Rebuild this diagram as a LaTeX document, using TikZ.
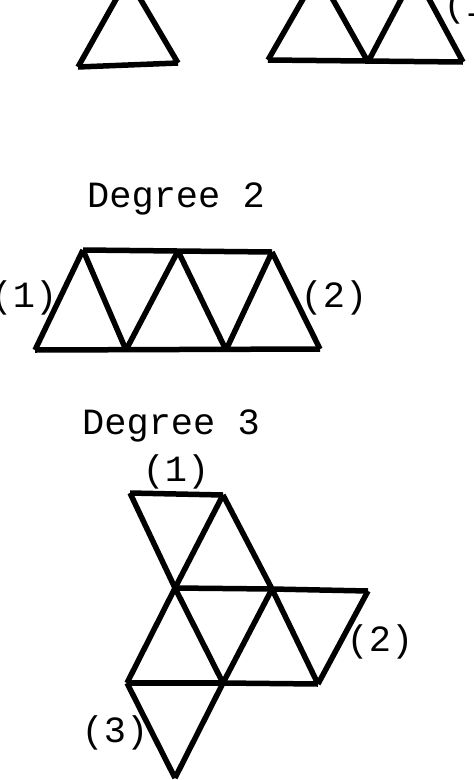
\documentclass[tikz,border=0pt]{standalone}
\usepackage{fontspec}
\setmonofont{Liberation Mono}

\begin{document}
\begin{tikzpicture}[x=1pt,y=-1pt,
    edge/.style={line width=5.5pt},
    lbl/.style={font=\ttfamily\fontsize{37}{40}\selectfont,inner sep=0pt}]
    \useasboundingbox (0,0) rectangle (474,780);
    \clip (0,0) rectangle (474,780);

    \coordinate (sa) at (128,-22);
    \coordinate (sl) at (78,67);
    \coordinate (sr) at (178,63);
    \coordinate (pa) at (318,-27);
    \coordinate (pb) at (415,-27);
    \coordinate (pl) at (268,60);
    \coordinate (pm) at (368,62);
    \coordinate (pr) at (463,62);
    \node[lbl] (p1) at (477,7) {(1)};
    \foreach \u/\v in {sa/sl,sl/sr,sr/sa,pa/pb,pl/pr,pl/pa,pa/pm,pm/pb,pb/pr}
        \draw[edge] (\u) -- (\v);

    \node[lbl] (deg2) at (176,199) {Degree 2};
    \coordinate (t0) at (83,250);
    \coordinate (t1) at (178,251);
    \coordinate (t2) at (272,252);
    \coordinate (b0) at (35,350);
    \coordinate (b1) at (126,350);
    \coordinate (b2) at (226,350);
    \coordinate (b3) at (320,349);
    \node[lbl] (d2a) at (24,298) {(1)};
    \node[lbl] (d2b) at (334,298) {(2)};
    \foreach \u/\v in {t0/t2,b0/b3,b0/t0,t0/b1,b1/t1,t1/b2,b2/t2,t2/b3}
        \draw[edge] (\u) -- (\v);

    \node[lbl] (deg3) at (171,426) {Degree 3};
    \coordinate (A) at (130,493);
    \coordinate (B) at (223,495);
    \coordinate (C) at (175,588);
    \coordinate (D) at (272,589);
    \coordinate (E) at (368,591);
    \coordinate (F) at (127,683);
    \coordinate (G) at (223,683);
    \coordinate (H) at (318,684);
    \coordinate (I) at (175,778);
    \node[lbl] (d3a) at (176,472) {(1)};
    \node[lbl] (d3b) at (380,642) {(2)};
    \node[lbl] (d3c) at (115,733) {(3)};
    \foreach \u/\v in {A/B,A/C,B/C,B/D,C/D,D/E,C/F,C/G,D/G,D/H,E/H,F/G,G/H,F/I,G/I}
        \draw[edge] (\u) -- (\v);
\end{tikzpicture}
\end{document}
